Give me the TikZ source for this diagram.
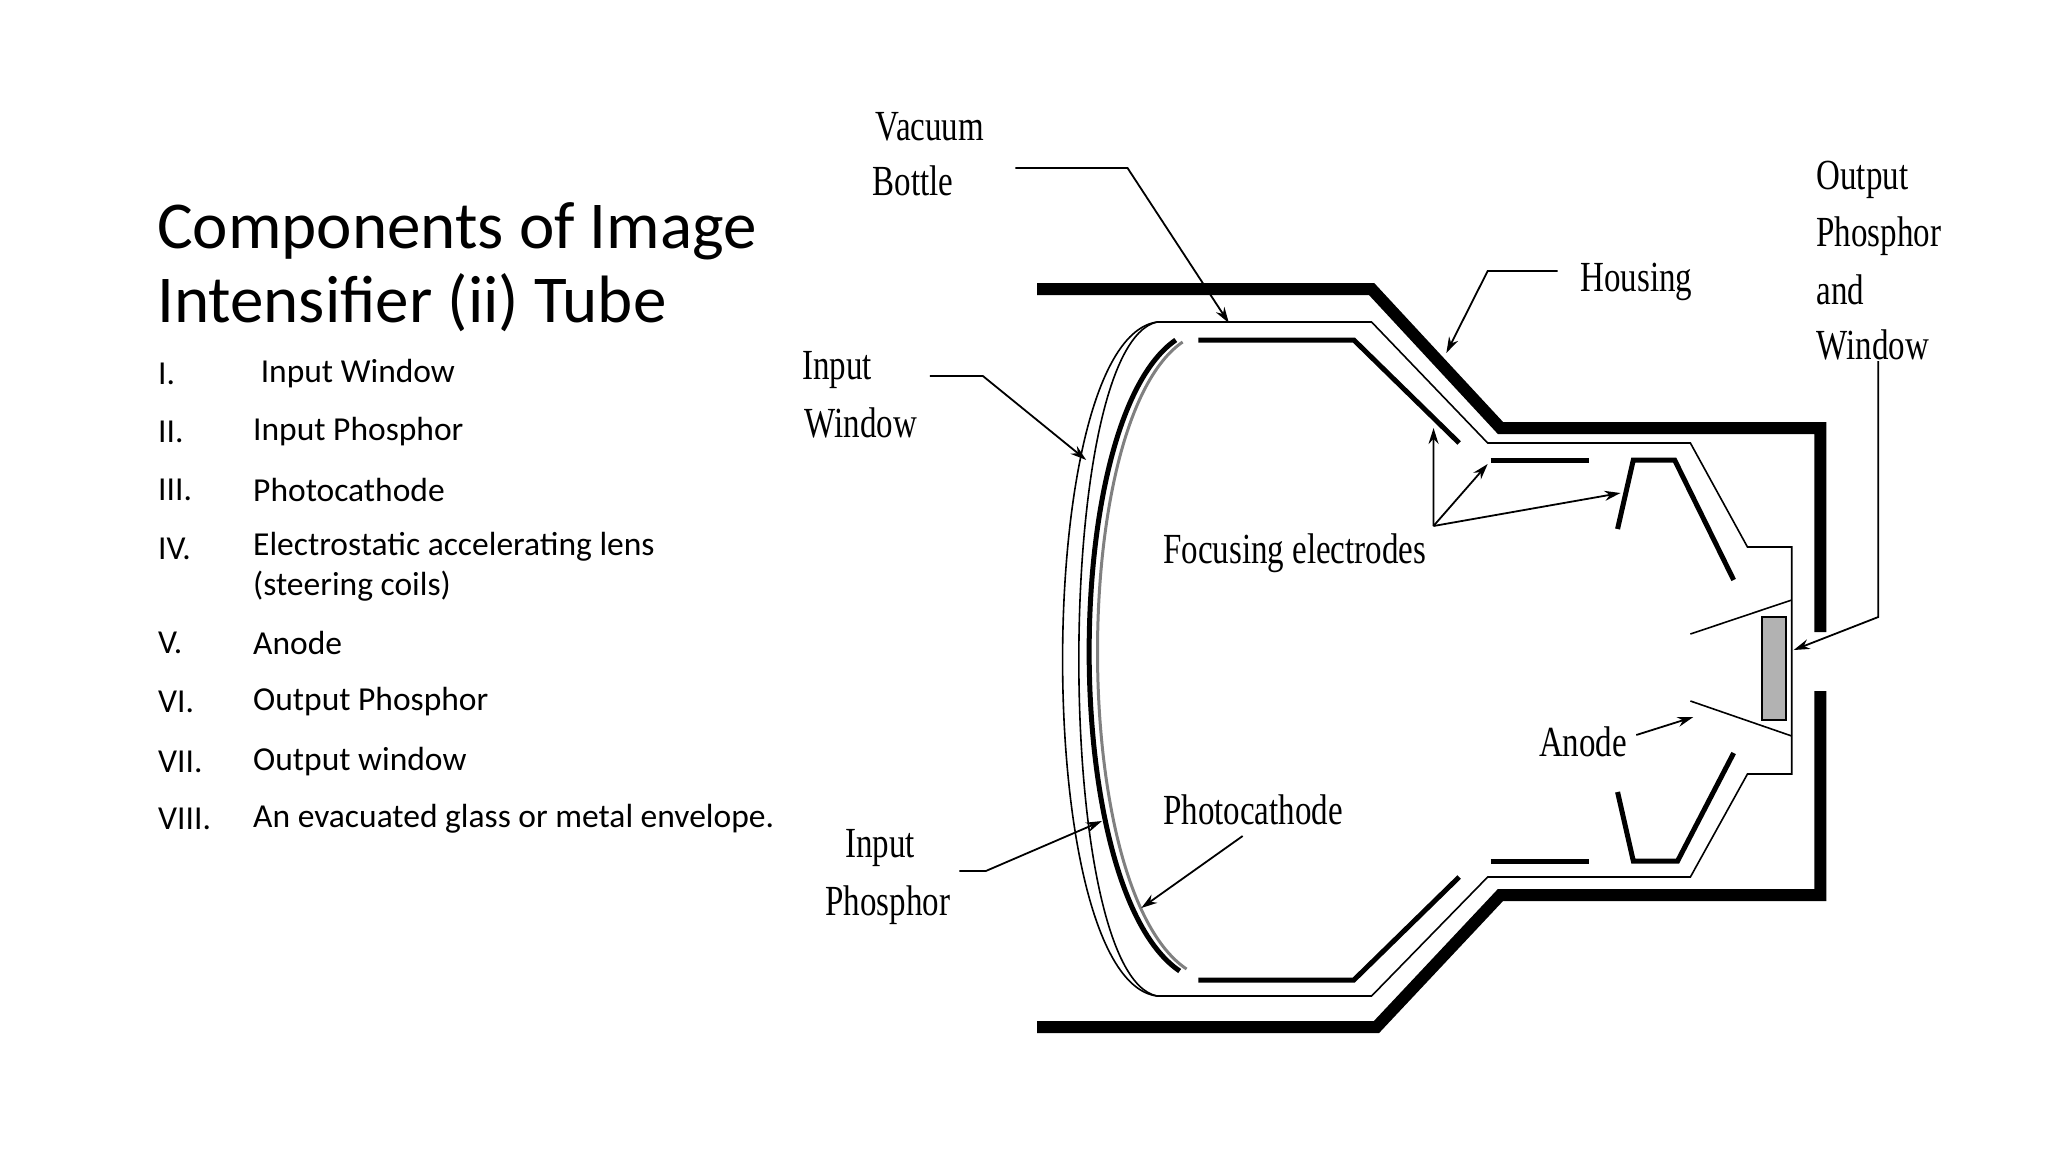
\documentclass[tikz,border=0pt]{standalone}
\usepackage{fontspec}
\setmainfont{Carlito}
\newfontfamily\tnr{Liberation Serif}
\usetikzlibrary{arrows.meta}
\tikzset{
 hous/.style={line width=12pt},
 elec/.style={line width=5pt},
 glass/.style={line width=1.6pt},
 lbl/.style={font=\tnr\fontsize{33}{33}\selectfont, anchor=west, inner sep=0pt},
 lead/.style={line width=1.8pt, -{Stealth[length=16pt,width=10pt]}},
 itm/.style={font=\fontsize{33.5}{40}\selectfont, anchor=west, inner sep=0pt, align=left},
}
\newcommand{\tall}[1]{\scalebox{1}[1.3]{#1}}
\begin{document}
\begin{tikzpicture}[x=1pt,y=-1pt]
\useasboundingbox (0,0) rectangle (2048,1152);
% title and list
\node[anchor=west, inner sep=0pt, font=\fontsize{67}{80}\selectfont] (t1) at (157,231) {Components of Image};
\node[anchor=west, inner sep=0pt, font=\fontsize{67}{80}\selectfont] (t2) at (157,303) {Intensifier (ii) Tube};
\foreach \n/\y/\t in {I./374/\ Input Window, II./432/Input Phosphor, III./490/Photocathode, V./643/Anode, VI./702/Output Phosphor, VII./762/Output window, VIII./819/An evacuated glass or metal envelope.}{
 \node[itm] at (158,\y) {\n};
 \node[itm] at (253,\y) {\t};
}
\node[itm] (n4) at (158,549) {IV.};
\node[itm] (i4) at (253,567) {Electrostatic accelerating lens\\(steering coils)};
\begin{scope}[shift={(1037,0)}, xscale=0.984, shift={(-1037,0)}]
% housing
\draw[hous] (1037,289) -- (1377,289) -- (1508,428) -- (1833,428) -- (1833,632);
\draw[hous] (1833,691) -- (1833,895) -- (1508,895) -- (1382,1027) -- (1037,1027);
% glass envelope
\draw[glass] (1159,322) -- (1377,322) -- (1495,443) -- (1701,443) -- (1759,547) -- (1804,547) -- (1804,774) -- (1759,774) -- (1701,877) -- (1495,877) -- (1377,996) -- (1159,996);
\draw[glass] (1159,322) .. controls (1031,340) and (1031,980) .. (1159,996);
\draw[glass] (1159,322) .. controls (1053,345) and (1053,975) .. (1159,996);
% phosphor / photocathode
\draw[line width=5pt] (1178,340) .. controls (1060,420) and (1060,890) .. (1182,971);
\draw[line width=3pt, gray] (1185,342) .. controls (1069,420) and (1069,890) .. (1189,969);
% electrodes
\draw[elec] (1201,340) -- (1359,340) -- (1466,443);
\draw[elec] (1201,980) -- (1359,980) -- (1466,877);
\draw[elec] (1498,460) -- (1598,460);
\draw[elec] (1498,861) -- (1598,861);
\draw[elec] (1627,529) -- (1643,460) -- (1685,460) -- (1745,580);
\draw[elec] (1627,792) -- (1643,861) -- (1688,861) -- (1745,753);
% anode
\draw[glass] (1701,634) -- (1804,600);
\draw[glass] (1701,701) -- (1804,736);
% output phosphor
\draw[line width=1.5pt, fill=gray!60] (1774,617) rectangle (1798,720);
% labels
\node[lbl] (vac) at (873,127) {\tall{Vacuum}};
\node[lbl] (bot) at (870,181) {\tall{Bottle}};
\node[lbl] (iw1) at (798,370) {\tall{Input}};
\node[lbl] (iw2) at (801,423) {\tall{Window}};
\node[lbl] (hs) at (1589,282) {\tall{Housing}};
\node[lbl] (op1) at (1829,180) {\tall{Output}};
\node[lbl] (op2) at (1829,236) {\tall{Phosphor}};
\node[lbl] (op3) at (1829,290) {\tall{and}};
\node[lbl] (op4) at (1829,345) {\tall{Window}};
\node[lbl] (fe) at (1165,553) {\tall{Focusing electrodes}};
\node[lbl] (an) at (1547,742) {\tall{Anode}};
\node[lbl] (pc) at (1165,810) {\tall{Photocathode}};
\node[lbl] (ip1) at (842,848) {\tall{Input}};
\node[lbl] (ip2) at (822,905) {\tall{Phosphor}};
% leaders
\coordinate (fo) at (1440,526);
\draw[lead] (1015,168) -- (1129,168) -- (1232,323);
\draw[lead] (1566,271) -- (1495,271) -- (1453,353);
\draw[lead] (1892,361) -- (1892,617) -- (1806,650);
\draw[lead] (928,376) -- (982,376) -- (1087,460);
\draw[lead] (958,871) -- (985,871) -- (1103,821);
\draw[lead] (1646,735) -- (1704,717);
\draw[lead] (1246,836) -- (1143,908);
\draw[lead] (fo) -- (1440,428);
\draw[lead] (fo) -- (1495,464);
\draw[lead] (fo) -- (1630,493);
\end{scope}
\end{tikzpicture}
\end{document}
